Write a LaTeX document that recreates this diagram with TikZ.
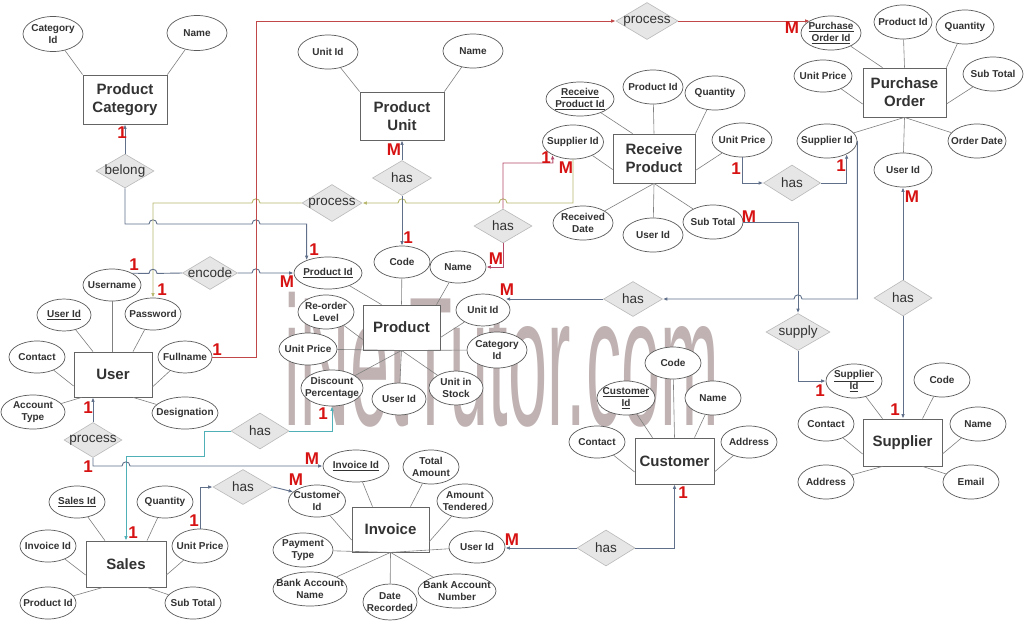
\documentclass[tikz,border=0pt]{standalone}
\usepackage{fontspec}
\setmainfont{Liberation Sans}
\usetikzlibrary{shapes.geometric,arrows.meta}
\pgfdeclarelayer{bg}
\pgfsetlayers{bg,main}
\definecolor{connc}{RGB}{96,112,138}
\definecolor{redc}{RGB}{192,72,72}
\definecolor{olivec}{RGB}{184,184,112}
\definecolor{pinkc}{RGB}{180,72,104}
\definecolor{tealc}{RGB}{80,176,184}
\definecolor{alc}{RGB}{128,128,128}
\definecolor{ellborder}{RGB}{90,90,90}
\definecolor{entborder}{RGB}{100,100,100}
\definecolor{relfill}{RGB}{230,230,230}
\definecolor{relborder}{RGB}{185,185,185}
\definecolor{txt}{RGB}{50,50,50}
\definecolor{cardred}{RGB}{215,18,18}
\definecolor{wmfill}{RGB}{192,178,178}
\tikzset{
  sz/.style 2 args={minimum width=#1pt,minimum height=#2pt},
  attr/.style={ellipse, draw=ellborder, fill=white, line width=0.7pt, inner xsep=-8pt, inner ysep=-4pt, align=center, text=txt, font=\fontsize{10}{11.5}\selectfont\bfseries},
  ent/.style={rectangle, draw=entborder, fill=white, line width=0.8pt, inner sep=0pt, align=center, text=txt, font=\fontsize{15}{18}\selectfont\bfseries},
  rel/.style={diamond, draw=relborder, fill=relfill, line width=0.6pt, inner sep=0pt, label={[text=txt, font=\fontsize{13.5}{14}\selectfont]center:#1}},
  card/.style={text=cardred, inner sep=0pt, font=\fontsize{17}{17}\selectfont\bfseries},
  cn/.style={draw=connc, line width=0.9pt},
  cnred/.style={draw=redc, line width=0.9pt},
  cnolive/.style={draw=olivec, line width=0.9pt},
  cnpink/.style={draw=pinkc, line width=0.9pt},
  cnteal/.style={draw=tealc, line width=0.9pt},
  arr/.style={-{Latex[length=4.5pt,width=3.6pt]}},
  al/.style={draw=alc, line width=0.6pt},
  wm/.style={anchor=base west, inner sep=0pt, xscale=0.382, transform shape, font=\fontsize{184}{184}\selectfont}
}
\begin{document}
\begin{tikzpicture}[x=1pt,y=-1pt]
\useasboundingbox (0,0) rectangle (1024,622);
\begin{pgfonlayer}{bg}
\fill[white] (0,0) rectangle (1024,622);
\node[wm, text=wmfill] (wm) at (284,425) {iNetTutor.com};
\end{pgfonlayer}

% entities
\node[ent, sz={84}{49}] (pc) at (125,99.5) {Product\\Category};
\node[ent, sz={84}{48}] (pu) at (402,116) {Product\\Unit};
\node[ent, sz={82}{49}] (rp) at (654,158.5) {Receive\\Product};
\node[ent, sz={83}{49}] (po) at (904.5,92.5) {Purchase\\Order};
\node[ent, sz={77}{45}] (prod) at (401.5,327.5) {Product};
\node[ent, sz={79}{46}] (cust) at (674.5,461) {Customer};
\node[ent, sz={79}{47}] (sup) at (902.5,442.5) {Supplier};
\node[ent, sz={78}{45}] (user) at (113,374.5) {User};
\node[ent, sz={80}{46}] (sales) at (126,564) {Sales};
\node[ent, sz={77}{45}] (inv) at (390.5,529.5) {Invoice};

% relationships
\node[rel=belong, sz={58}{34}] (rbelong) at (125,171) {};
\node[rel=process, sz={60}{37}] (rproc1) at (332,203) {};
\node[rel=encode, sz={55}{33}] (rencode) at (210,273) {};
\node[rel=process, sz={62}{37}] (rproc2) at (647,21) {};
\node[rel=has, sz={59}{35}] (rhasunit) at (402,178) {};
\node[rel=has, sz={58}{34}] (rhasname) at (503,226) {};
\node[rel=has, sz={57}{36}] (rhasrs) at (792,183) {};
\node[rel=has, sz={59}{35}] (rhasunitid) at (633,299) {};
\node[rel=has, sz={58}{36}] (rhaspo) at (903,298) {};
\node[rel=supply, sz={64}{37}] (rsupply) at (798,332) {};
\node[rel=has, sz={58}{36}] (rhasdisc) at (260,431) {};
\node[rel=process, sz={58}{35}] (rproc3) at (93,440) {};
\node[rel=has, sz={60}{35}] (rhassales) at (243,487) {};
\node[rel=has, sz={58}{36}] (rhascust) at (606,548) {};

% attributes
\node[attr, sz={60}{35}] (pcid) at (53,34) {Category\\Id};
\node[attr, sz={60}{35}] (pcname) at (197,33) {Name};
\node[attr, sz={60}{34}] (puid) at (328,52) {Unit Id};
\node[attr, sz={60}{34}] (puname) at (473,51) {Name};
\node[attr, sz={68}{34}] (rpid) at (580,99) {\underline{Receive}\\\underline{Product Id}};
\node[attr, sz={60}{34}] (rppid) at (653,87) {Product Id};
\node[attr, sz={60}{34}] (rpqty) at (715,93) {Quantity};
\node[attr, sz={61}{34}] (rpsup) at (573,142) {Supplier Id};
\node[attr, sz={60}{34}] (rpup) at (742,140) {Unit Price};
\node[attr, sz={60}{34}] (rpdate) at (583,223) {Received\\Date};
\node[attr, sz={60}{34}] (rpuser) at (653,235) {User Id};
\node[attr, sz={60}{34}] (rpsub) at (713,222) {Sub Total};

\node[attr, sz={60}{34}] (poid) at (831,33) {\underline{Purchase}\\\underline{Order Id}};
\node[attr, sz={58}{34}] (popid) at (903,22) {Product Id};
\node[attr, sz={58}{34}] (poqty) at (965,27) {Quantity};
\node[attr, sz={58}{32}] (poup) at (823,76) {Unit Price};
\node[attr, sz={60}{34}] (posub) at (993,74) {Sub Total};
\node[attr, sz={60}{34}] (posup) at (827,141) {Supplier Id};
\node[attr, sz={58}{34}] (podate) at (977,141) {Order Date};
\node[attr, sz={58}{34}] (pouser) at (903,170) {User Id};

\node[attr, sz={68}{32}] (prid) at (328,273) {\underline{Product Id}};
\node[attr, sz={56}{32}] (prcode) at (402,262) {Code};
\node[attr, sz={56}{32}] (prname) at (458,267) {Name};
\node[attr, sz={56}{34}] (prreo) at (326,312) {Re-order\\Level};
\node[attr, sz={58}{32}] (prup) at (308,349) {Unit Price};
\node[attr, sz={62}{36}] (prdisc) at (332,388) {Discount\\Percentage};
\node[attr, sz={54}{32}] (pruser) at (399,399) {User Id};
\node[attr, sz={54}{34}] (prstock) at (456,388) {Unit in\\Stock};
\node[attr, sz={60}{36}] (prcat) at (497,350) {Category\\Id};
\node[attr, sz={54}{32}] (prunit) at (483,310) {Unit Id};

\node[attr, sz={58}{34}] (cuid) at (626,398) {\underline{Customer}\\\underline{Id}};
\node[attr, sz={56}{32}] (cucode) at (673,363) {Code};
\node[attr, sz={56}{34}] (cuname) at (713,398) {Name};
\node[attr, sz={56}{32}] (cucon) at (597,442) {Contact};
\node[attr, sz={56}{32}] (cuaddr) at (749,442) {Address};

\node[attr, sz={56}{34}] (suid) at (854,381) {\underline{Supplier}\\\underline{Id}};
\node[attr, sz={56}{34}] (sucode) at (942,380) {Code};
\node[attr, sz={56}{34}] (sucon) at (826,424) {Contact};
\node[attr, sz={56}{34}] (suname) at (978,424) {Name};
\node[attr, sz={56}{34}] (suaddr) at (826,482) {Address};
\node[attr, sz={56}{34}] (suemail) at (971,482) {Email};

\node[attr, sz={54}{32}] (usid) at (64,315) {\underline{User Id}};
\node[attr, sz={58}{32}] (usname) at (112,285) {Username};
\node[attr, sz={56}{32}] (uspass) at (153,314) {Password};
\node[attr, sz={56}{32}] (uscon) at (37,357) {Contact};
\node[attr, sz={54}{32}] (usfull) at (185,357) {Fullname};
\node[attr, sz={64}{34}] (usacc) at (33,412) {Account\\Type};
\node[attr, sz={66}{32}] (usdes) at (185,413) {Designation};

\node[attr, sz={56}{32}] (said) at (77,502) {\underline{Sales Id}};
\node[attr, sz={56}{32}] (saqty) at (165,502) {Quantity};
\node[attr, sz={56}{32}] (sainv) at (48,546) {Invoice Id};
\node[attr, sz={56}{34}] (saup) at (200,546) {Unit Price};
\node[attr, sz={56}{32}] (sapid) at (48,603) {Product Id};
\node[attr, sz={56}{32}] (sasub) at (193,603) {Sub Total};

\node[attr, sz={66}{32}] (inid) at (356,466) {\underline{Invoice Id}};
\node[attr, sz={56}{34}] (intot) at (431,467) {Total\\Amount};
\node[attr, sz={56}{34}] (inamt) at (465,501) {Amount\\Tendered};
\node[attr, sz={56}{32}] (inuser) at (477,547) {User Id};
\node[attr, sz={78}{34}] (inbnum) at (457,591) {Bank Account\\Number};
\node[attr, sz={54}{36}] (indate) at (390,602) {Date\\Recorded};
\node[attr, sz={74}{34}] (inbname) at (310,589) {Bank Account\\Name};
\node[attr, sz={60}{34}] (inpay) at (303,550) {Payment\\Type};
\node[attr, sz={57}{32}] (incid) at (317,501) {Customer\\Id};

% attribute lines
\draw[al] (pcid) -- (pc.north west);
\draw[al] (pcname) -- (pc.north east);
\draw[al] (puid) -- (pu.north west);
\draw[al] (puname) -- (pu.north east);
\draw[al] (rpid) -- ([xshift=20pt]rp.north west);
\draw[al] (rppid) -- (rp.north);
\draw[al] (rpqty) -- (rp.north east);
\draw[al] (rpsup) -- ([yshift=-11pt]rp.west);
\draw[al] (rpup) -- ([yshift=-12pt]rp.east);
\draw[al] (rpdate) -- (rp.south);
\draw[al] (rpuser) -- (rp.south);
\draw[al] (rpsub) -- (rp.south);
\draw[al] (poid) -- ([xshift=-22pt]po.north);
\draw[al] (popid) -- (po.north);
\draw[al] (poqty) -- (po.north east);
\draw[al] (poup) -- ([yshift=-11.5pt]po.west);
\draw[al] (posub) -- ([yshift=-11.5pt]po.east);
\draw[al] (posup) -- (po.south);
\draw[al] (podate) -- (po.south);
\draw[al] (pouser) -- (po.south);
\draw[al] (prid) -- ([xshift=-20pt]prod.north);
\draw[al] (prcode) -- (prod.north);
\draw[al] (prname) -- ([xshift=35pt]prod.north);
\draw[al] (prreo) -- ([yshift=-12pt]prod.west);
\draw[al] (prup) -- (prod.south);
\draw[al] (prdisc) -- (prod.south);
\draw[al] (pruser) -- (prod.south);
\draw[al] (prstock) -- (prod.south);
\draw[al] (prcat) -- (prod.south);
\draw[al] (prunit) -- ([yshift=-10pt]prod.east);
\draw[al] (cuid) -- ([xshift=-22pt]cust.north);
\draw[al] (cucode) -- (cust.north);
\draw[al] (cuname) -- ([xshift=20pt]cust.north);
\draw[al] (cucon) -- ([yshift=-11pt]cust.west);
\draw[al] (cuaddr) -- ([yshift=-11pt]cust.east);
\draw[al] (suid) -- ([xshift=-20pt]sup.north);
\draw[al] (sucode) -- ([xshift=20pt]sup.north);
\draw[al] (sucon) -- ([yshift=-11.5pt]sup.west);
\draw[al] (suname) -- ([yshift=-11.5pt]sup.east);
\draw[al] (suaddr) -- ([xshift=-20pt]sup.south);
\draw[al] (suemail) -- ([xshift=20pt]sup.south);
\draw[al] (usid) -- ([xshift=-20pt]user.north);
\draw[al] (usname) -- ([xshift=-1pt]user.north);
\draw[al] (uspass) -- ([xshift=20pt]user.north);
\draw[al] (uscon) -- ([yshift=-11.5pt]user.west);
\draw[al] (usfull) -- ([yshift=-12.5pt]user.east);
\draw[al] (usacc) -- ([xshift=8pt]user.south west);
\draw[al] (usdes) -- ([xshift=20pt]user.south);
\draw[al] (said) -- ([xshift=-21pt]sales.north);
\draw[al] (saqty) -- ([xshift=21pt]sales.north);
\draw[al] (sainv) -- ([yshift=-11pt]sales.west);
\draw[al] (saup) -- ([yshift=-11pt]sales.east);
\draw[al] (sapid) -- ([xshift=-23pt]sales.south);
\draw[al] (sasub) -- ([xshift=21pt]sales.south);
\draw[al] (inid) -- ([xshift=-18pt]inv.north);
\draw[al] (intot) -- ([xshift=20pt]inv.north);
\draw[al] (inamt) -- ([yshift=-12pt]inv.east);
\draw[al] (incid) -- ([yshift=-10.5pt]inv.west);
\draw[al] (inpay) -- (inv.south);
\draw[al] (inbname) -- (inv.south);
\draw[al] (indate) -- (inv.south);
\draw[al] (inbnum) -- (inv.south);
\draw[al] (inuser) -- (inv.south);

% connectors
\draw[cn,arr] (rbelong.north) -- (pc.south);
\draw[cn,arr] (rbelong.south) |- (149,224) .. controls (149,218.5) and (157,218.5) .. (157,224) -- (252,224) .. controls (252,218.5) and (260,218.5) .. (260,224) -| (prid.149);

\draw[cnolive,arr] (rpsup.south) |- (507,203) .. controls (507,197.5) and (499,197.5) .. (499,203) -- (406,203) .. controls (406,197.5) and (398,197.5) .. (398,203) -- (rproc1.east);
\draw[cnolive,arr] (rproc1.west) -- (260,203) .. controls (260,197.5) and (252,197.5) .. (252,203) -| (uspass.north);

\draw[cn] (usname.30) -- (149,273.4) .. controls (149,267.9) and (157,267.9) .. (157,273.4) -- (rencode.west);
\draw[cn,arr] (rencode.east) -- (252,273) .. controls (252,267.5) and (260,267.5) .. (260,273) -- (prid.west);

\draw[cnred,arr] (usfull.east) -| (256,21) -- (rproc2.west);
\draw[cnred,arr] (rproc2.east) -- (rproc2.east -| poid.150);

\draw[cn,arr] (rhasunit.north) -- (rhasunit.north |- pu.south);
\draw[cn,arr] (rhasunit.south) -- (rhasunit.south |- prcode.north);

\draw[cnpink,arr] (rhasname.north) |- (553,163) -- (rpsup.212);
\draw[cnpink,arr] (rhasname.south) |- (prname.east);

\draw[cn,arr] (rpup.south) |- (rhasrs.west);
\draw[cn,arr] (rhasrs.east) -| (posup.326);

\draw[cn,arr] (rpsub.east) -| (rsupply.north);

\draw[cn,arr] (posup.east) |- (802,299) .. controls (802,293.5) and (794,293.5) .. (794,299) -- (rhasunitid.east);
\draw[cn,arr] (rhasunitid.west) -- (rhasunitid.west -| prunit.22);

\draw[cn,arr] (rhaspo.north) -- (pouser.south);
\draw[cn,arr] (rhaspo.south) -- (rhaspo.south |- sup.north);

\draw[cn,arr] (rsupply.south) |- (suid.west);

\draw[cnteal,arr] (rhasdisc.east) -| (prdisc.south);
\draw[cnteal,arr] (rhasdisc.west) -| (204,456) -| (sales.north);

\draw[cn,arr] (rproc3.north) -- (rproc3.north |- user.south);
\draw[cn,arr] (rproc3.south) |- (122,466) .. controls (122,460.5) and (130,460.5) .. (130,466) -- (inid.west);

\draw[cn,arr] (saup.north) |- (rhassales.west);
\draw[cn,arr] (rhassales.east) -- (incid.159);

\draw[cn,arr] (rhascust.west) -- (rhascust.west -| inuser.east);
\draw[cn,arr] (rhascust.east) -| (cust.south);

% cardinalities
\node[card] (k1) at (122,133) {1};
\node[card] (k2) at (314,250) {1};
\node[card] (k3) at (287,282) {M};
\node[card] (k4) at (134,265) {1};
\node[card] (k5) at (162,290) {1};
\node[card] (k6) at (566,168) {M};
\node[card] (k7) at (217,350) {1};
\node[card] (k8) at (792,28) {M};
\node[card] (k9) at (394,150) {M};
\node[card] (k10) at (408,238) {1};
\node[card] (k11) at (546,158) {1};
\node[card] (k12) at (496,259) {M};
\node[card] (k13) at (736,169) {1};
\node[card] (k14) at (841,166) {1};
\node[card] (k15) at (749,217) {M};
\node[card] (k16) at (912,197) {M};
\node[card] (k17) at (895,410) {1};
\node[card] (k18) at (507,290) {M};
\node[card] (k19) at (820,391) {1};
\node[card] (k20) at (323,414) {1};
\node[card] (k21) at (133,533) {1};
\node[card] (k22) at (88,408) {1};
\node[card] (k23) at (88,467) {1};
\node[card] (k24) at (312,459) {M};
\node[card] (k25) at (194,521) {1};
\node[card] (k26) at (296,480) {M};
\node[card] (k27) at (512,540) {M};
\node[card] (k28) at (683,493) {1};
\end{tikzpicture}
\end{document}
